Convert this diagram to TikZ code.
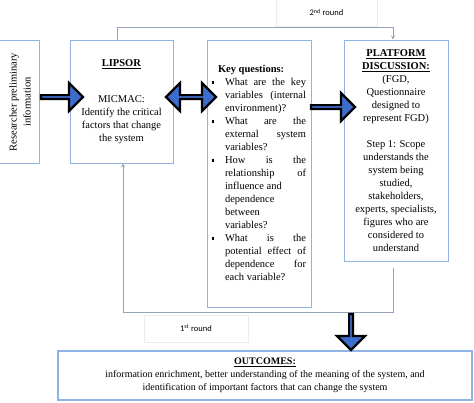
\documentclass[tikz,border=0pt]{standalone}
\usepackage{fontspec}
\setmainfont{Liberation Serif}
\newfontfamily\calibri{Carlito}
\usetikzlibrary{shapes.arrows}
\definecolor{boxblue}{RGB}{143,180,227}
\definecolor{arrowblue}{RGB}{61,109,204}
\definecolor{loopgray}{RGB}{150,162,185}
\newcommand{\qbullet}{\rule[0.3ex]{2.4pt}{2.4pt}}

\begin{document}
\begin{tikzpicture}[x=1pt,y=-1pt,>=stealth,font=\fontsize{10.5}{13}\selectfont]
\tikzstyle{box}=[draw=boxblue,line width=0.9pt,fill=white,inner sep=0pt,align=center]
\tikzstyle{bigarrow}=[single arrow,draw=black,line width=2.2pt,fill=arrowblue,inner sep=0pt,minimum width=28pt,single arrow head extend=7pt]
\tikzstyle{roundlabel}=[draw=gray!15,fill=white,inner sep=0pt,font=\calibri\fontsize{8.5}{10}\selectfont]
\tikzstyle{loopline}=[draw=loopgray,line width=0.8pt]
\useasboundingbox (0,0) rectangle (474,402);

% boxes
\node[box,minimum width=41pt,minimum height=123pt](res) at (18.5,101.5) {};
\node[rotate=90,align=center,font=\fontsize{10.5}{14}\selectfont] at (20,102) {Researcher preliminary\\ information};
\node[box,minimum width=103pt,minimum height=123pt](lip) at (121.5,101.5) {\underline{\textbf{LIPSOR}}\\[23pt] MICMAC:\\ Identify the critical\\ factors that change\\ the system};
\node[box,minimum width=104pt,minimum height=267pt](key) at (259,173.5) {\begin{tabular}{@{}p{13pt}@{}p{81pt}@{}}
\multicolumn{2}{@{\hspace{6pt}}l@{}}{\textbf{Key questions:}}\\
\qbullet & What are the key\linebreak variables (internal\linebreak environment)?\\
\qbullet & What are the\linebreak external system\linebreak variables?\\
\qbullet & How is the\linebreak relationship of\linebreak influence and\newline dependence\newline between\newline variables?\\
\qbullet & What is the\linebreak potential effect of\linebreak dependence for\linebreak each variable?
\end{tabular}};
\node[box,minimum width=104pt,minimum height=221pt](plat) at (396,150.5) {\underline{\textbf{PLATFORM}}\\ \underline{\textbf{DISCUSSION:}}\\ (FGD,\\ Questionnaire\\ designed to\\ represent FGD)\\[13pt] Step 1: Scope\\ understands the\\ system being\\ studied,\\ stakeholders,\\ experts, specialists,\\ figures who are\\ considered to\\ understand};
\node[box,line width=1.6pt,minimum width=414pt,minimum height=49pt,font=\fontsize{10}{13}\selectfont](out) at (265,375.5) {\underline{\textbf{OUTCOMES:}}\\ information enrichment, better understanding of the meaning of the system, and\\ identification of important factors that can change the system};

% rounds
\coordinate (r1start) at (393,268);
\coordinate (r1corner) at (123,312);
\draw[loopline,->] ([xshift=-4.5pt]lip.north) -- ++(0,-12) -| ([xshift=-3pt]plat.north);
\draw[loopline,->] (r1start) |- (r1corner) -- (lip.south -| r1corner);
\node[roundlabel,minimum width=101pt,minimum height=28pt](r2) at (326.5,12.5) {2\textsuperscript{nd} round};
\node[roundlabel,minimum width=104pt,minimum height=27pt](r1) at (196,328.5) {1\textsuperscript{st} round};

% block arrows
\node[bigarrow,minimum height=42pt](a1) at (61,97) {};
\node[bigarrow,double arrow,double arrow head extend=7pt,minimum height=50pt](a2) at (191,97) {};
\node[bigarrow,minimum height=44pt](a3) at (332,107) {};
\node[bigarrow,rotate=-90,minimum height=36pt](a4) at (351,331) {};
\end{tikzpicture}
\end{document}
